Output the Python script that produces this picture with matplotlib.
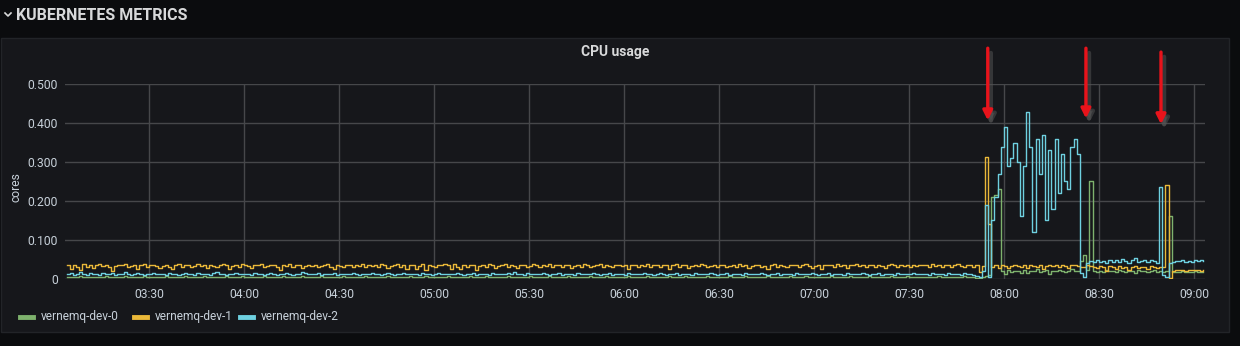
import numpy as np
import pandas as pd
import matplotlib
matplotlib.use("Agg")
import matplotlib.pyplot as plt
import matplotlib.dates as mdates
from matplotlib.patches import Rectangle
from matplotlib.lines import Line2D

# one sample per minute, 03:04 -> 09:03, values in milli-cores (rows = 30 min)
times = pd.date_range("2020-05-12 03:04", periods=360, freq="1min")

dev0 = [  # green
    5, 4, 5, 5, 6, 5, 4, 5, 5, 5, 4, 5, 6, 5, 5, 4, 5, 5, 6, 5, 4, 5, 5, 5, 6, 5, 4, 5, 5, 5,
    5, 6, 5, 4, 5, 5, 5, 6, 5, 5, 4, 5, 5, 6, 5, 5, 4, 5, 5, 5, 6, 5, 4, 5, 5, 6, 5, 5, 4, 5,
    5, 5, 6, 5, 4, 5, 5, 5, 6, 5, 5, 4, 5, 5, 6, 5, 5, 4, 5, 5, 6, 5, 5, 4, 5, 5, 5, 6, 5, 4,
    5, 5, 4, 5, 6, 5, 5, 5, 4, 5, 5, 6, 5, 5, 4, 5, 5, 5, 6, 5, 4, 5, 5, 6, 5, 5, 4, 5, 5, 5,
    6, 5, 5, 4, 5, 5, 5, 6, 5, 4, 5, 5, 6, 5, 5, 5, 4, 5, 5, 6, 5, 5, 4, 5, 5, 5, 6, 5, 4, 5,
    5, 5, 6, 5, 4, 5, 5, 5, 6, 5, 5, 4, 5, 5, 5, 6, 5, 4, 5, 5, 6, 5, 5, 4, 5, 5, 5, 6, 5, 5,
    4, 5, 5, 6, 5, 5, 4, 5, 5, 5, 6, 5, 4, 5, 5, 6, 5, 5, 5, 4, 5, 5, 6, 5, 5, 4, 5, 5, 5, 6,
    5, 4, 5, 5, 6, 5, 5, 5, 4, 5, 5, 6, 5, 5, 4, 5, 5, 5, 6, 5, 4, 5, 5, 6, 5, 5, 4, 5, 5, 5,
    5, 6, 5, 4, 5, 5, 5, 6, 5, 5, 4, 5, 5, 6, 5, 5, 4, 5, 5, 5, 6, 5, 4, 5, 5, 6, 5, 5, 4, 5,
    5, 5, 4, 5, 5, 6, 5, 4, 5, 5, 4, 5, 5, 6, 5, 5, 4, 3, 3, 4, 6, 10, 210, 215, 230, 20, 12, 22, 16, 20,
    20, 14, 22, 15, 21, 19, 24, 17, 20, 22, 12, 21, 19, 23, 20, 17, 21, 24, 19, 20, 45, 60, 22, 250, 20, 17, 21, 18, 22, 19,
    20, 16, 22, 19, 17, 21, 20, 14, 22, 19, 21, 18, 20, 22, 16, 20, 18, 19, 160, 18, 17, 18, 20, 18, 16, 18, 19, 18, 17, 18,
]

dev1 = [  # yellow
    36, 24, 35, 31, 22, 37, 30, 35, 27, 34, 37, 32, 35, 29, 21, 33, 36, 34, 38, 31, 33, 35, 26, 34, 37, 30, 34, 36, 33, 28,
    33, 36, 31, 24, 35, 37, 30, 36, 34, 29, 33, 37, 32, 36, 27, 35, 33, 31, 36, 38, 34, 25, 33, 36, 30, 37, 35, 32, 28, 35,
    34, 37, 31, 33, 36, 35, 29, 22, 35, 33, 37, 30, 35, 34, 27, 33, 36, 32, 35, 31, 33, 36, 37, 29, 24, 35, 33, 30, 36, 34,
    31, 35, 33, 37, 29, 35, 33, 36, 30, 37, 35, 28, 33, 36, 37, 31, 35, 26, 34, 36, 26, 33, 37, 23, 35, 32, 30, 36, 34, 37,
    35, 24, 37, 31, 25, 34, 29, 36, 35, 22, 33, 36, 30, 37, 35, 28, 33, 36, 37, 31, 35, 33, 27, 36, 35, 31, 33, 37, 34, 30,
    35, 32, 37, 29, 35, 34, 31, 36, 35, 27, 33, 36, 31, 37, 35, 30, 33, 35, 38, 31, 35, 33, 29, 36, 34, 32, 35, 24, 34, 36,
    31, 35, 33, 37, 29, 35, 34, 30, 36, 35, 24, 34, 37, 31, 36, 35, 28, 33, 36, 32, 37, 35, 30, 33, 35, 29, 36, 34, 31, 33,
    35, 30, 37, 33, 35, 28, 33, 36, 34, 31, 33, 26, 35, 37, 31, 34, 33, 29, 36, 34, 35, 31, 34, 37, 33, 28, 33, 35, 24, 36,
    34, 36, 30, 37, 33, 35, 28, 35, 34, 37, 32, 34, 29, 35, 36, 31, 35, 33, 27, 35, 37, 34, 30, 35, 33, 36, 31, 34, 33, 35,
    34, 36, 31, 37, 33, 35, 29, 34, 36, 31, 35, 37, 33, 30, 35, 34, 30, 34, 18, 33, 312, 140, 30, 35, 28, 34, 32, 27, 33, 35,
    33, 30, 34, 28, 35, 33, 31, 35, 24, 33, 34, 32, 35, 30, 34, 33, 28, 35, 34, 33, 30, 31, 34, 32, 30, 28, 33, 31, 20, 32,
    30, 25, 32, 28, 31, 22, 30, 33, 27, 31, 29, 24, 32, 30, 28, 30, 31, 241, 2, 20, 22, 23, 22, 21, 23, 22, 22, 23, 21, 22,
]

dev2 = [  # cyan
    12, 15, 10, 13, 16, 12, 10, 14, 12, 13, 10, 15, 13, 11, 14, 10, 12, 13, 16, 12, 10, 13, 14, 12, 10, 13, 12, 15, 11, 13,
    12, 10, 14, 12, 13, 10, 12, 15, 13, 11, 10, 14, 12, 13, 12, 10, 14, 18, 13, 12, 10, 13, 12, 15, 11, 12, 13, 12, 10, 14,
    12, 13, 10, 12, 15, 12, 10, 13, 12, 14, 12, 10, 13, 12, 18, 14, 11, 13, 12, 14, 10, 12, 13, 12, 15, 10, 12, 13, 11, 12,
    14, 12, 10, 13, 12, 11, 15, 12, 13, 10, 12, 14, 12, 10, 13, 12, 15, 11, 12, 13, 12, 10, 14, 12, 13, 10, 12, 15, 12, 13,
    11, 12, 13, 15, 12, 10, 13, 12, 14, 10, 12, 13, 12, 10, 14, 12, 13, 11, 12, 15, 12, 17, 13, 12, 10, 14, 12, 13, 11, 12,
    14, 12, 10, 13, 12, 15, 10, 12, 13, 12, 10, 14, 12, 13, 11, 12, 15, 12, 10, 13, 12, 14, 10, 12, 13, 12, 10, 15, 12, 13,
    11, 12, 14, 12, 13, 10, 12, 15, 12, 10, 13, 12, 14, 10, 12, 13, 12, 10, 15, 12, 13, 11, 12, 14, 12, 10, 13, 12, 15, 10,
    12, 13, 12, 10, 14, 12, 13, 11, 12, 15, 12, 10, 13, 12, 14, 10, 12, 13, 12, 10, 15, 12, 13, 11, 12, 14, 12, 10, 13, 12,
    14, 10, 12, 13, 12, 10, 15, 12, 13, 11, 12, 14, 12, 10, 13, 12, 15, 10, 12, 13, 12, 10, 14, 12, 13, 11, 12, 15, 12, 13,
    12, 13, 10, 14, 12, 13, 12, 10, 15, 12, 13, 12, 10, 14, 12, 13, 10, 6, 4, 20, 190, 5, 150, 210, 270, 340, 390, 290, 310, 350,
    300, 160, 290, 430, 340, 120, 360, 270, 370, 150, 330, 180, 360, 220, 320, 250, 230, 340, 360, 320, 15, 5, 40, 45, 42, 48, 44, 46, 41, 47,
    44, 48, 42, 50, 45, 40, 47, 52, 44, 46, 49, 43, 48, 45, 41, 235, 10, 5, 40, 44, 46, 45, 47, 44, 46, 43, 48, 45, 47, 46,
]

series_names = ["vernemq-dev-0", "vernemq-dev-1", "vernemq-dev-2"]
series_colors = ["#7eb26d", "#eab839", "#6ed0e0"]

# times the red arrows point at (annotations on the screenshot)
arrow_times = ["2020-05-12 07:54:54", "2020-05-12 08:25:54", "2020-05-12 08:49:36"]
arrow_tips = [0.40, 0.405, 0.39]
arrow_tops = [0.60, 0.60, 0.59]

W, H = 1240, 346
page_bg = "#0b0c0e"
panel_bg = "#16171b"
text_col = "#c7d0d9"

plt.rcParams["font.family"] = ["Roboto", "DejaVu Sans"]

fig = plt.figure(figsize=(W / 100, H / 100), dpi=100, facecolor=page_bg)

# panel box
fig.patches.append(Rectangle((1 / W, (H - 332) / H), 1228 / W, 294 / H,
                             transform=fig.transFigure, facecolor=panel_bg,
                             edgecolor="#222428", lw=1, zorder=-5))

# row header
fig.text(16 / W, 1 - 15 / H, "KUBERNETES METRICS", color="#d8d9da",
         fontsize=11.5, fontweight="bold", va="center", ha="left")
fig.add_artist(Line2D([5 / W, 8 / W, 11 / W], [1 - 13 / H, 1 - 16 / H, 1 - 13 / H],
                      transform=fig.transFigure, color="#d8d9da", lw=1.2))

# panel title, centred on the panel
fig.text(615 / W, 1 - 52 / H, "CPU usage", color="#d8d9da", fontsize=10,
         fontweight="bold", ha="center", va="center")

ax = fig.add_axes([65 / W, (H - 278.7) / H, 1140 / W, 194.4 / H])
ax.set_facecolor("none")

for vals, name, col in zip([dev0, dev1, dev2], series_names, series_colors):
    ax.plot(times, np.array(vals) / 1000.0, drawstyle="steps-post", color=col, lw=1.0, label=name)

ax.set_xlim(pd.Timestamp("2020-05-12 03:03:30"), pd.Timestamp("2020-05-12 09:03:30"))
ax.set_ylim(0, 0.5)
ax.set_yticks([0, 0.1, 0.2, 0.3, 0.4, 0.5])
ax.set_yticklabels(["0", "0.100", "0.200", "0.300", "0.400", "0.500"])
ax.xaxis.set_major_locator(mdates.MinuteLocator(byminute=[0, 30]))
ax.xaxis.set_major_formatter(mdates.DateFormatter("%H:%M"))

ax.grid(True, color="#46474a", lw=1)
ax.set_axisbelow(True)
for s in ax.spines.values():
    s.set_visible(False)
ax.tick_params(length=0, colors=text_col, labelsize=8.7)
ax.tick_params(axis="x", pad=7)
ax.tick_params(axis="y", pad=5)
ax.set_ylabel("cores", color=text_col, fontsize=8.7)
ax.yaxis.set_label_coords(-43 / 1140, 0.47)

# red arrows drawn on the screenshot
for t, tip, top in zip(arrow_times, arrow_tips, arrow_tops):
    ts = pd.Timestamp(t)
    ax.annotate("", xy=(ts + pd.Timedelta("60s"), tip - 0.012), xytext=(ts + pd.Timedelta("60s"), top - 0.012),
                arrowprops=dict(arrowstyle="-|>", color="#555555", alpha=0.5, lw=3, mutation_scale=14),
                annotation_clip=False)
    ax.annotate("", xy=(ts, tip), xytext=(ts, top),
                arrowprops=dict(arrowstyle="-|>", color="#e8131b", lw=2.4, mutation_scale=14),
                annotation_clip=False)

# legend
legend_x = [20, 134, 240]
for lx, name, col in zip(legend_x, series_names, series_colors):
    fig.add_artist(Line2D([lx / W, (lx + 13) / W], [1 - 317 / H, 1 - 317 / H],
                          transform=fig.transFigure, color=col, lw=3.5))
    fig.text((lx + 21) / W, 1 - 316.5 / H, name, color=text_col, fontsize=8.6,
             va="center", ha="left")

fig.savefig("out.png", dpi=100, facecolor=page_bg)
